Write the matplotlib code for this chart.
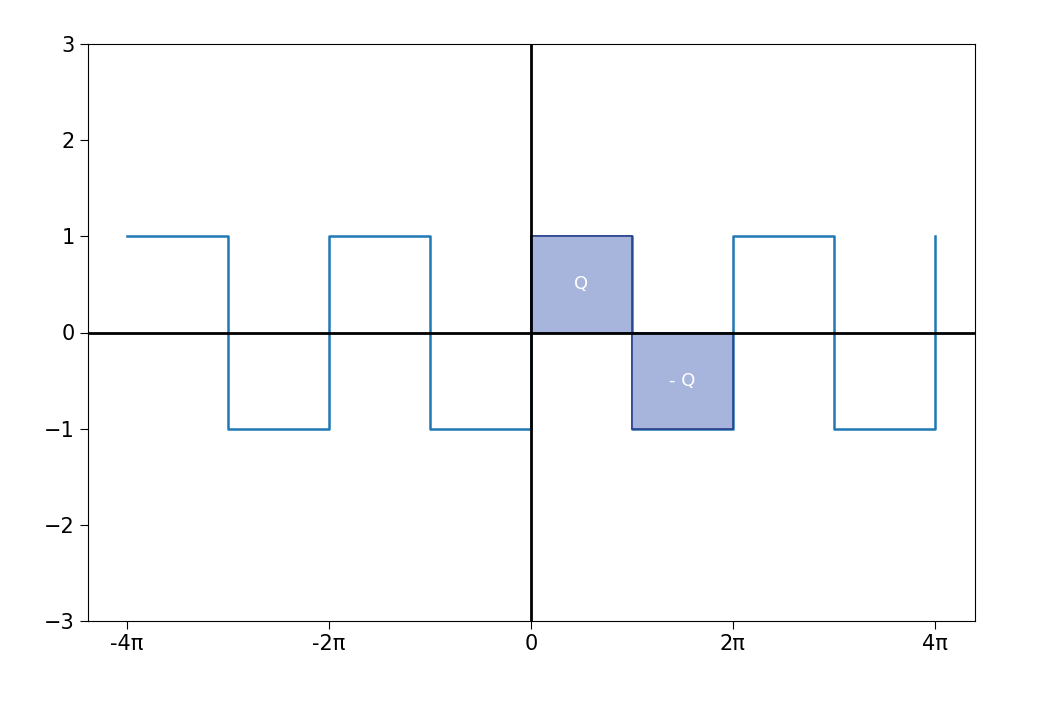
import numpy as np
import matplotlib
matplotlib.use("Agg")
import matplotlib.pyplot as plt

# square wave: value on each interval [k*pi, (k+1)*pi]
edges_pi = [-4, -3, -2, -1, 0, 1, 2, 3, 4]
levels = [1, -1, 1, -1, 1, -1, 1, -1]
end_level = 1
tick_pos_pi = [-4, -2, 0, 2, 4]
tick_labels = ["-4π", "-2π", "0", "2π", "4π"]
areas_pi = [(0, 1, 1, "Q"), (1, 2, -1, "- Q")]

fig = plt.figure(figsize=(10.5, 7.02), dpi=100)
ax = fig.add_axes([88/1050, 1-621/702, 887/1050, 577/702])

xs, ys = [], []
for i, lv in enumerate(levels):
    xs += [edges_pi[i]*np.pi, edges_pi[i+1]*np.pi]
    ys += [lv, lv]
xs.append(edges_pi[-1]*np.pi); ys.append(end_level)
ax.plot(xs, ys, color="#1f77b4", lw=1.8)

for a, b, h, lab in areas_pi:
    ax.add_patch(plt.Rectangle((a*np.pi, 0), (b-a)*np.pi, h,
                 facecolor="#a7b5dd", edgecolor="#2b3f8c", lw=1.2, zorder=3))
    ax.text((a+b)/2*np.pi, h/2, lab, color="white", ha="center", va="center",
            fontsize=13, zorder=4)

ax.axhline(0, color="black", lw=2, zorder=5)
ax.axvline(0, color="black", lw=2, zorder=5)
ax.set_ylim(-3, 3)
ax.set_xlim(-4.386*np.pi, 4.4*np.pi)
ax.set_xticks([p*np.pi for p in tick_pos_pi])
ax.set_xticklabels(tick_labels)
ax.set_yticks([-3, -2, -1, 0, 1, 2, 3])
ax.set_yticklabels(["−3", "−2", "−1", "0", "1", "2", "3"])
ax.tick_params(labelsize=15, length=6)
fig.savefig("out.png", dpi=100)
